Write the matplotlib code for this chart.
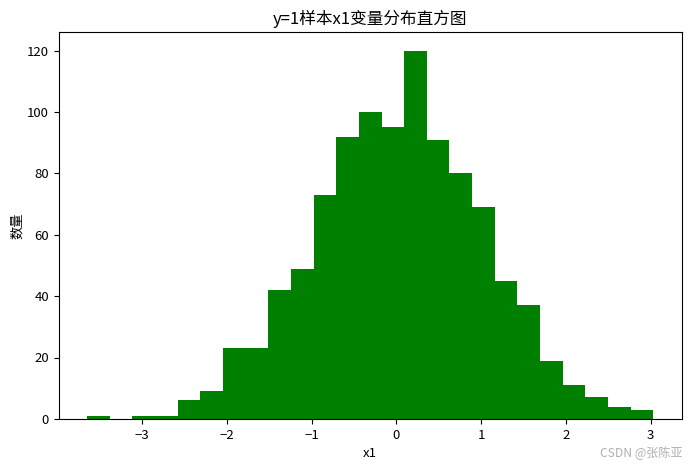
import numpy as np
import matplotlib
matplotlib.use("Agg")
import matplotlib.pyplot as plt

plt.rcParams['font.family'] = ['Noto Sans CJK SC', 'DejaVu Sans']
plt.rcParams['axes.unicode_minus'] = True

# histogram: 25 equal bins
bin_lo = -3.65
bin_hi = 3.03
n_bins = 25
counts = [1, 0, 1, 1, 6, 9, 23, 23, 42, 49, 73, 92, 100,
          95, 120, 91, 80, 69, 45, 37, 19, 11, 7, 4, 3]

edges = np.linspace(bin_lo, bin_hi, n_bins + 1)
centers = (edges[:-1] + edges[1:]) / 2

fig = plt.figure(figsize=(6.92, 4.68), dpi=100)
ax = fig.add_axes([0.085, 0.105, 0.9, 0.826])

ax.hist(centers, bins=edges, weights=counts, color='green')

ax.set_title('y=1样本x1变量分布直方图', fontsize=12)
ax.set_xlabel('x1', fontsize=9.5)
ax.set_ylabel('数量', fontsize=9.5, labelpad=2)
ax.tick_params(labelsize=9.5)

# watermark
fig.text(0.987, 0.018, 'CSDN @张陈亚', ha='right', va='bottom',
         fontsize=8.7, color='#b0b0b0')

fig.savefig('out.png', dpi=100)
